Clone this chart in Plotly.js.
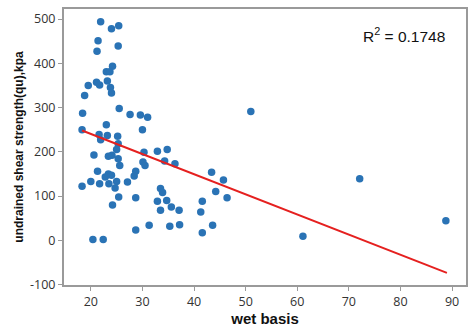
<!DOCTYPE html>
<html>
<head>
<meta charset="utf-8">
<script src="https://cdn.plot.ly/plotly-3.0.1.min.js"></script>
<style>html,body{margin:0;padding:0;background:#fff;}#chart{width:474px;height:327px;}</style>
</head>
<body>
<div id="chart"></div>
<script>
const wetBasis = [21.9,24.0,25.4,21.4,21.2,25.3,24.2,23.0,23.7,21.1,21.7,19.5,23.2,23.8,24.0,18.8,25.5,18.4,27.6,29.6,31.0,18.3,23.0,30.0,21.6,23.2,25.2,21.9,25.3,25.0,20.6,23.4,24.1,25.3,25.6,21.3,23.4,22.8,24.0,28.7,28.4,18.3,20.0,21.7,23.5,25.0,27.1,24.7,30.3,30.1,30.5,32.9,34.8,34.3,36.3,33.5,33.9,43.4,25.4,24.2,28.7,28.7,20.4,22.4,32.9,34.7,35.6,37.1,33.5,31.3,35.3,37.2,41.6,41.3,43.6,41.6,44.2,45.7,46.4,61.1,51.0,72.1,88.8];
const shearStrength = [494,478,485,451,427,439,393,381,381,357,351,350,360,345,333,327,298,287,284,283,278,250,261,250,239,237,235,227,218,205,193,190,192,184,169,156,150,143,147,156,145,122,133,128,128,133,132,118,199,177,169,201,205,179,173,117,108,154,98,80,96,23,2,2,88,90,75,68,68,34,32,35,88,64,34,17,110,136,96,9,291,139,44];
const trendX = [18.3, 89.0];
const trendY = [248, -73.5];
const xTicks = [20,30,40,50,60,70,80,90];
const yTicks = [-100,0,100,200,300,400,500];
const yTickText = ['-100','0','100','200','300','400','500'];
const r2Label = 'R<sup>2</sup> = 0.1748';

const data = [
  {x: wetBasis, y: shearStrength, type: 'scatter', mode: 'markers',
   marker: {color: '#2a73b5', size: 7.5}, hoverinfo: 'x+y'},
  {x: trendX, y: trendY, type: 'scatter', mode: 'lines',
   line: {color: '#e5201f', width: 2}}
];
const axisFont = {family: 'Open Sans, Liberation Sans, sans-serif', size: 12.5, color: '#333'};
const layout = {
  width: 474, height: 327,
  margin: {l: 64, r: 8, t: 9, b: 42},
  paper_bgcolor: '#fff', plot_bgcolor: '#fff',
  showlegend: false,
  xaxis: {range: [14.8, 92.7], tickvals: xTicks, showgrid: false, zeroline: false,
    showline: true, mirror: true, linecolor: '#9a9a9a', linewidth: 2,
    ticks: 'outside', ticklen: 4, tickcolor: '#9a9a9a', tickfont: axisFont,
    title: {text: '<b>wet basis</b>', font: {family: 'Liberation Sans, Arial, sans-serif', size: 15, color: '#111'}, standoff: 4}},
  yaxis: {range: [-101, 522.6], tickvals: yTicks, ticktext: yTickText, showgrid: false, zeroline: false,
    showline: true, mirror: true, linecolor: '#9a9a9a', linewidth: 2,
    ticks: 'outside', ticklen: 4, tickcolor: '#9a9a9a', tickfont: axisFont,
    title: {text: '<b>undrained shear strength(qu),kpa</b>', font: {family: 'Liberation Sans, Arial, sans-serif', size: 12, color: '#111'}, standoff: 4}},
  annotations: [{x: 0.953, y: 0.905, xref: 'paper', yref: 'paper', xanchor: 'right', yanchor: 'middle',
    text: r2Label, showarrow: false, font: {family: 'Liberation Sans, Arial, sans-serif', size: 15.5, color: '#111'}}]
};
Plotly.newPlot('chart', data, layout, {displayModeBar: false, staticPlot: true});
</script>
</body>
</html>
